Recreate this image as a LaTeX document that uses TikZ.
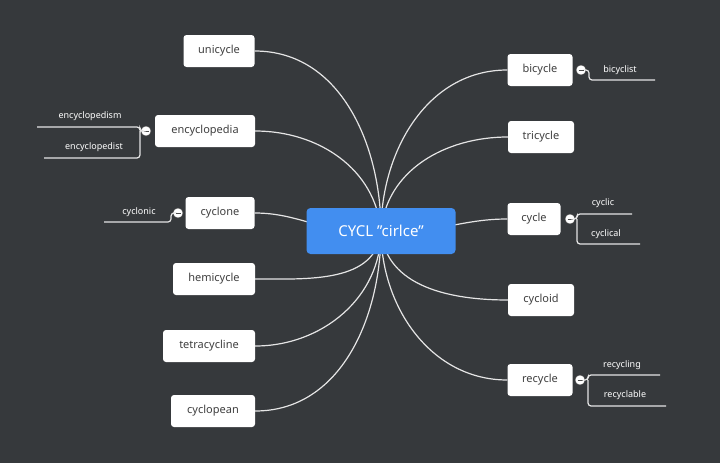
\documentclass[tikz,border=0pt]{standalone}
\usepackage{fontspec}
\setmainfont{Noto Sans}
\begin{document}
\begin{tikzpicture}[x=1pt,y=-1pt,
  leaf/.style={fill=white,rounded corners=3pt,text=black!75,font=\fontsize{11}{13}\selectfont,minimum height=32pt,inner xsep=6pt},
  sub/.style={text=white,font=\fontsize{9}{11}\selectfont,inner sep=1pt},
  link/.style={draw=white!90!black,line width=1.2pt},
  knob/.style={circle,fill=white,draw=black!70,line width=0.4pt,minimum size=10pt,inner sep=0pt,
    path picture={\draw[black!70,line width=1pt] ([xshift=-2.5pt]path picture bounding box.center)--([xshift=2.5pt]path picture bounding box.center);}}]
\fill[fill={rgb,255:red,54;green,57;blue,60}] (0,0) rectangle (720,463);
\coordinate (c) at (381,231);
\coordinate (ct) at (381,208);
\coordinate (cb) at (381,254);
% left
\node[leaf,minimum width=71pt] (uni) at (219,51) {unicycle};
\node[leaf,minimum width=100pt] (enc) at (205,131) {encyclopedia};
\node[leaf,minimum width=69pt] (cyn) at (220,213) {cyclone};
\node[leaf,minimum width=82pt] (hem) at (214,279) {hemicycle};
\node[leaf,minimum width=92pt] (tet) at (209,346) {tetracycline};
\node[leaf,minimum width=84pt] (cyp) at (213,411) {cyclopean};
% right
\node[leaf,minimum width=65pt] (bic) at (540,70) {bicycle};
\node[leaf,minimum width=66pt] (tri) at (541,137) {tricycle};
\node[leaf,minimum width=53pt] (cyc) at (534,219) {cycle};
\node[leaf,minimum width=66pt] (cyd) at (541,300) {cycloid};
\node[leaf,minimum width=65pt] (rec) at (540,380) {recycle};
% main links
\draw[link] (uni.east) to[out=0,in=90] (c);
\draw[link] (enc.east) to[out=0,in=95] (c);
\draw[link] (cyn.east) to[out=0,in=180] ([xshift=-20pt]c);
\draw[link] (hem.east) to[out=0,in=265] (c);
\draw[link] (tet.east) to[out=0,in=270] (c);
\draw[link] (cyp.east) to[out=0,in=270] (c);
\draw[link] (bic.west) to[out=180,in=90] (c);
\draw[link] (tri.west) to[out=180,in=85] (c);
\draw[link] (cyc.west) to[out=180,in=0] ([xshift=20pt]c);
\draw[link] (cyd.west) to[out=180,in=275] (c);
\draw[link] (rec.west) to[out=180,in=270] (c);
\node[fill={rgb,255:red,66;green,142;blue,240},rounded corners=4pt,minimum width=149pt,minimum height=46pt,text=white,font=\fontsize{15}{18}\selectfont] (root) at (381,231) {CYCL "cirlce"};
% encyclopedia sub
\node[knob] (k1) at (146,131) {};
\coordinate (e1) at (37,127); \coordinate (e2) at (44,158);
\draw[link,rounded corners=3pt] (k1.west) -- (140,131) |- (e1);
\draw[link,rounded corners=3pt] (140,131) |- (e2);
\node[sub] (s1) at (90,116) {encyclopedism};
\node[sub] (s2) at (94,147) {encyclopedist};
% cyclone sub
\node[knob] (k2) at (178,213) {};
\coordinate (e3) at (104,222);
\draw[link,rounded corners=3pt] (k2.west) -- (171,213) |- (e3);
\node[sub] (s3) at (139,212) {cyclonic};
% bicycle sub
\node[knob] (k3) at (581,70) {};
\coordinate (e4) at (655,80);
\draw[link,rounded corners=3pt] (k3.east) -- (589,70) |- (e4);
\node[sub] (s4) at (620,70) {bicyclist};
% cycle sub
\node[knob] (k4) at (570,219) {};
\coordinate (e5) at (632,214); \coordinate (e6) at (640,244);
\draw[link,rounded corners=3pt] (k4.east) -- (577,219) |- (e5);
\draw[link,rounded corners=3pt] (577,219) |- (e6);
\node[sub] (s5) at (603,203) {cyclic};
\node[sub] (s6) at (606,234) {cyclical};
% recycle sub
\node[knob] (k5) at (580,380) {};
\coordinate (e7) at (660,375); \coordinate (e8) at (666,406);
\draw[link,rounded corners=3pt] (k5.east) -- (588,380) |- (e7);
\draw[link,rounded corners=3pt] (588,380) |- (e8);
\node[sub] (s7) at (622,365) {recycling};
\node[sub] (s8) at (625,395) {recyclable};
\end{tikzpicture}
\end{document}
